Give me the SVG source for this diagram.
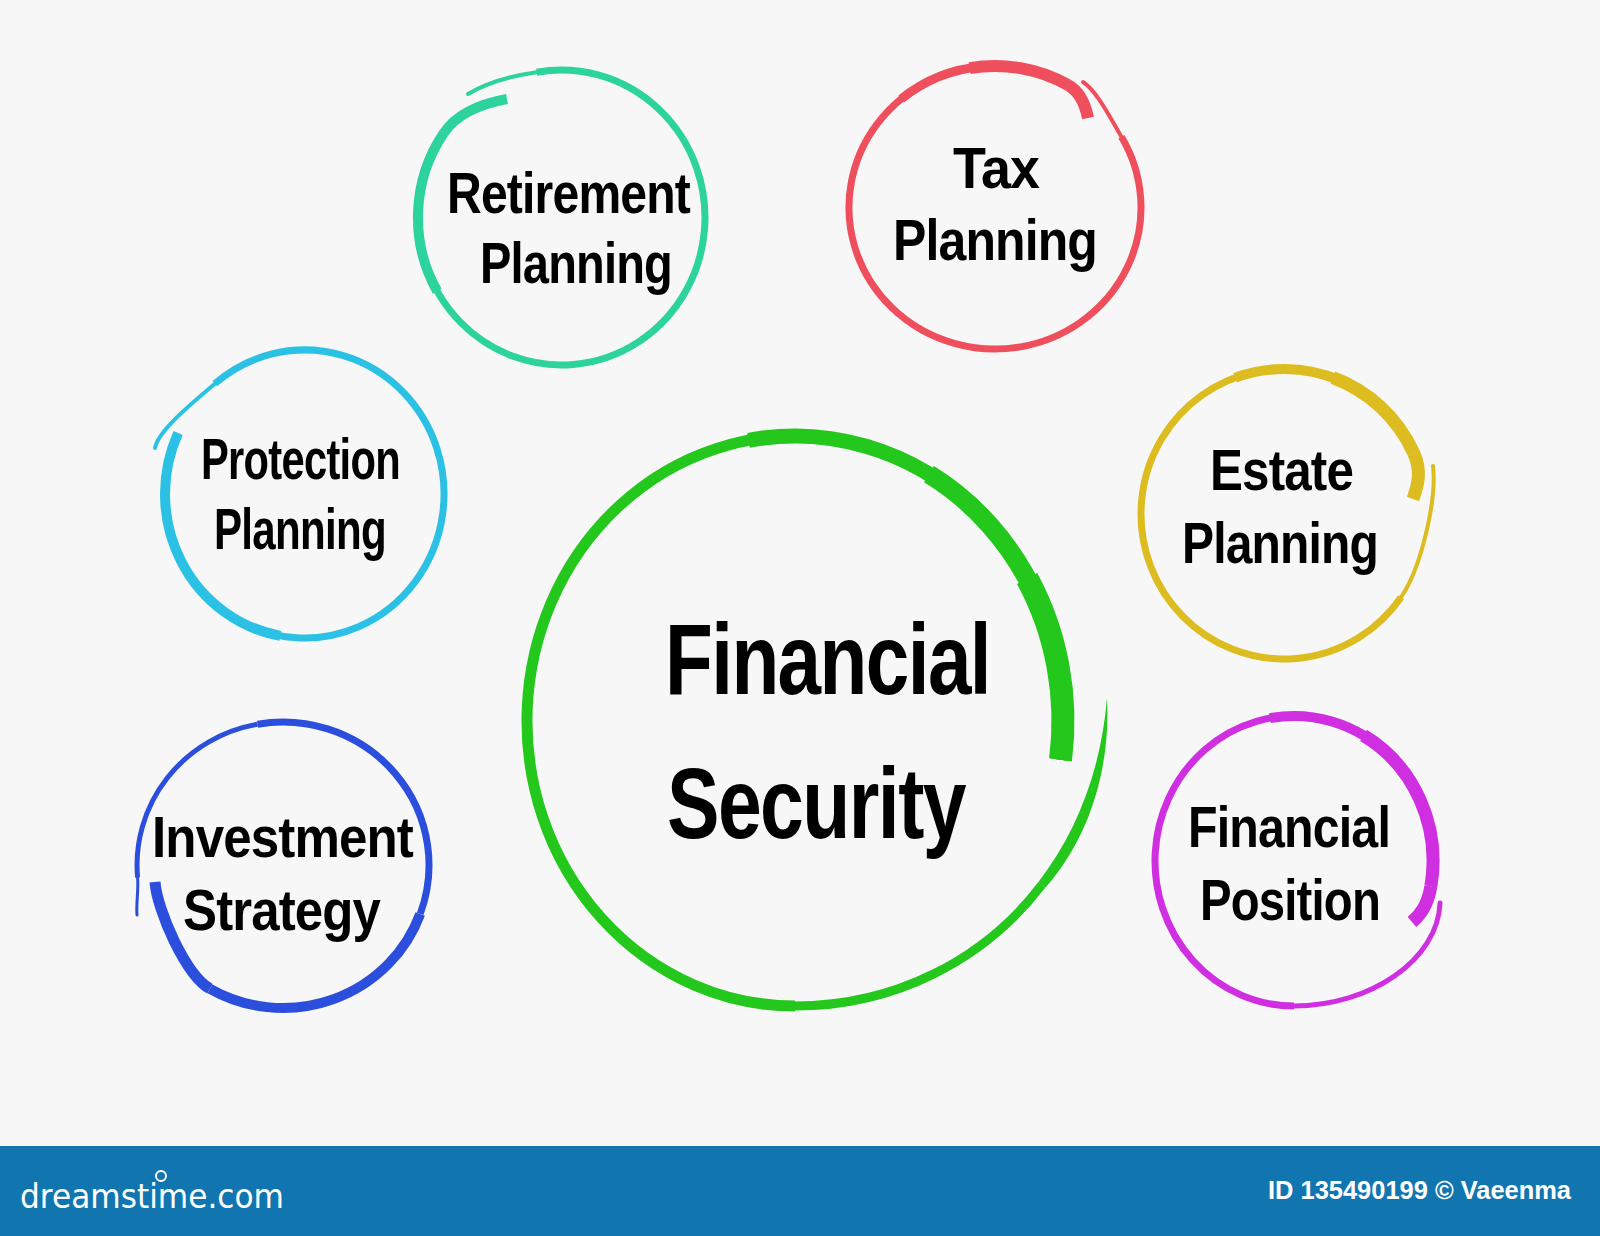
<svg xmlns="http://www.w3.org/2000/svg" width="1600" height="1236" viewBox="0 0 1600 1236">
<style>
.lbl{font-family:"Liberation Sans",Arial,sans-serif;font-weight:bold;fill:#000;font-size:58px;letter-spacing:-1px}
.big{font-size:100px;letter-spacing:-2px}
.r{fill:none;stroke-linecap:butt}
.t{fill:none;stroke-linecap:round}
.green{stroke:#24c81c}
.teal{stroke:#2cd39c}
.red{stroke:#ef4f5d}
.cyan{stroke:#2bc1e5}
.blue{stroke:#2b4fdc}
.yellow{stroke:#dcbc1e}
.mag{stroke:#cf2fe0}
</style>
<rect x="0" y="0" width="1600" height="1236" fill="#f7f7f7"/>
<g id="connectors"/>

<g id="node-financial-security">
  <path class="r green" stroke-width="11" d="M1060.5,759.7 A268,285 0 1 0 795,1006"/>
  <path class="r green" stroke-width="15" d="M1060.5,759.7 A268,285 0 0 0 748.5,440.3"/>
  <path class="r green" stroke-width="19" d="M1060.5,759.7 A268,285 0 0 0 929,474.2"/>
  <path class="r green" stroke-width="23" d="M1060.5,759.7 A268,285 0 0 0 1027.1,578.5"/>
  <path class="r green" stroke-width="9" d="M795,1006 C894,1006 984,960.64 1041.7,885.1"/>
  <path fill="#24c81c" d="M1038.1,882.4 C1077,832 1101,770 1107,698 C1111,770 1088,840 1045.3,887.8 Z"/>
  <text class="lbl big" x="665" y="694" textLength="325" lengthAdjust="spacingAndGlyphs">Financial</text>
  <text class="lbl big" x="667" y="838" textLength="298" lengthAdjust="spacingAndGlyphs">Security</text>
</g>

<g id="node-retirement-planning">
  <path class="t teal" stroke-width="4" d="M468,94 C485,84 510,76 536.6,72.2"/>
  <path class="r teal" stroke-width="7" d="M536.6,72.2 A143.5,147.5 0 1 1 443.9,132.9"/>
  <path class="r teal" stroke-width="10" d="M437.2,291.25 A143.5,147.5 0 0 1 443.9,132.9"/>
  <path class="r teal" stroke-width="10" d="M443.9,132.9 C458,112 485,103 507,99"/>
  <text class="lbl" x="447" y="213" textLength="243" lengthAdjust="spacingAndGlyphs">Retirement</text>
  <text class="lbl" x="480" y="283" textLength="192" lengthAdjust="spacingAndGlyphs">Planning</text>
</g>

<g id="node-tax-planning">
  <path class="t red" stroke-width="4" d="M1083,82 C1097,91 1111,119.6 1121.4,136.75"/>
  <path class="r red" stroke-width="7" d="M1121.4,136.75 A146,141.5 0 1 1 1068,85"/>
  <path class="r red" stroke-width="9" d="M901.2,99.1 A146,141.5 0 0 1 1068,85"/>
  <path class="r red" stroke-width="12" d="M969.65,68.15 A146,141.5 0 0 1 1068,85"/>
  <path class="r red" stroke-width="12" d="M1068,85 C1078.5,90.9 1085,103 1088,118"/>
  <text class="lbl" x="953" y="188" textLength="86" lengthAdjust="spacingAndGlyphs">Tax</text>
  <text class="lbl" x="893" y="260" textLength="204" lengthAdjust="spacingAndGlyphs">Planning</text>
</g>

<g id="node-protection-planning">
  <path class="t cyan" stroke-width="4" d="M155,448 C158,430 195.9,400.1 214.8,383.7"/>
  <path class="r cyan" stroke-width="7" d="M214.8,383.7 A139.5,144 0 1 1 178.1,433.1"/>
  <path class="r cyan" stroke-width="10" d="M280.3,635.8 A139.5,144 0 0 1 178.1,433.1"/>
  <text class="lbl" x="201" y="479" textLength="199" lengthAdjust="spacingAndGlyphs">Protection</text>
  <text class="lbl" x="214" y="549" textLength="172" lengthAdjust="spacingAndGlyphs">Planning</text>
</g>

<g id="node-investment-strategy">
  <path class="r blue" stroke-width="11" d="M155,882 C157,910 185.6,975 210,988.8"/>
  <path class="r blue" stroke-width="10" d="M210,988.8 A146,143 0 0 0 420.2,913.9"/>
  <path class="r blue" stroke-width="7" d="M420.2,913.9 A146,143 0 0 0 257.65,724.2"/>
  <path class="r blue" stroke-width="5" d="M257.65,724.2 A146,143 0 0 0 137.6,877.5"/>
  <path class="t blue" stroke-width="3" d="M137.6,877.5 C138.7,890 136,903 137,915"/>
  <text class="lbl" x="152" y="857" textLength="261" lengthAdjust="spacingAndGlyphs">Investment</text>
  <text class="lbl" x="183" y="930" textLength="197" lengthAdjust="spacingAndGlyphs">Strategy</text>
</g>

<g id="node-estate-planning">
  <path class="t yellow" stroke-width="4" d="M1433,466 C1437,500 1421,568.4 1401.1,597.2"/>
  <path class="r yellow" stroke-width="7" d="M1401.1,597.2 A143,145 0 1 1 1413.6,452.7"/>
  <path class="r yellow" stroke-width="10" d="M1235.1,377.7 A143,145 0 0 1 1413.6,452.7"/>
  <path class="r yellow" stroke-width="13" d="M1332.9,377.7 A143,145 0 0 1 1413.6,452.7"/>
  <path class="r yellow" stroke-width="13" d="M1413.6,452.7 C1422,471 1418,485 1413,499"/>
  <text class="lbl" x="1210" y="490" textLength="143" lengthAdjust="spacingAndGlyphs">Estate</text>
  <text class="lbl" x="1182" y="563" textLength="196" lengthAdjust="spacingAndGlyphs">Planning</text>
</g>

<g id="node-financial-position">
  <path class="t mag" stroke-width="5" d="M1440,903 C1438,960 1370,1006 1294,1006"/>
  <path class="r mag" stroke-width="7" d="M1294,1006 A139,145 0 1 1 1430.9,886.2"/>
  <path class="r mag" stroke-width="10" d="M1269.9,718.2 A139,145 0 0 1 1430.9,886.2"/>
  <path class="r mag" stroke-width="13" d="M1363.5,735.4 A139,145 0 0 1 1430.9,886.2"/>
  <path class="r mag" stroke-width="13" d="M1430.9,886.2 C1427.6,905.9 1420,915 1412,922"/>
  <text class="lbl" x="1188" y="847" textLength="202" lengthAdjust="spacingAndGlyphs">Financial</text>
  <text class="lbl" x="1200" y="920" textLength="180" lengthAdjust="spacingAndGlyphs">Position</text>
</g>

<g id="banner">
  <rect x="0" y="1146" width="1600" height="90" fill="#1176b0"/>
  <text x="20" y="1208" font-family="'DejaVu Sans', sans-serif" font-size="33" fill="#ffffff" textLength="264" lengthAdjust="spacingAndGlyphs">dreamstime.com</text>
  <circle cx="161" cy="1176" r="5" fill="none" stroke="#ffffff" stroke-width="2"/>
  <text x="1268" y="1199" font-family="'Liberation Sans', Arial, sans-serif" font-weight="bold" font-size="25" fill="#ffffff" textLength="303" lengthAdjust="spacingAndGlyphs">ID 135490199 © Vaeenma</text>
</g>
</svg>
